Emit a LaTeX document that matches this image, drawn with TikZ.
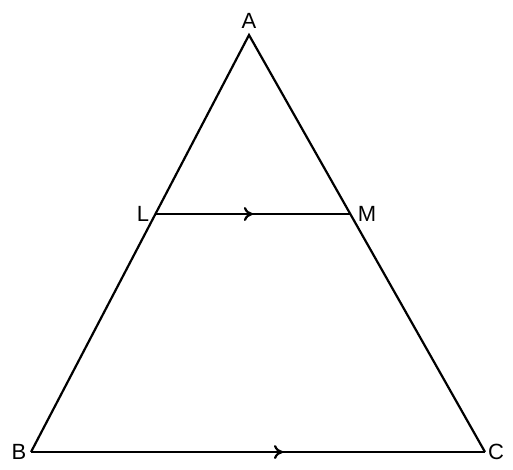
\documentclass[tikz,border=0pt]{standalone}
\usepackage{fontspec}
\setmainfont{Liberation Sans}
\usetikzlibrary{arrows.meta,decorations.markings}

\tikzset{
    side/.style={line width=2.2pt},
    vlabel/.style={inner sep=0pt, font=\fontsize{22}{26}\selectfont},
    midarrow/.style={postaction={decorate, decoration={markings,
        mark=at position #1 with {\draw[line width=2.8pt] (-26pt,0) -- (-3pt,0);
            \arrow{To[length=9pt,width=14pt,line width=2.2pt]}}}}}
}

\begin{document}
\begin{tikzpicture}[x=1pt, y=-1pt]
    \useasboundingbox (0,0) rectangle (513,469);

    % Define coordinates for the triangle
    \coordinate (A) at (249, 35);  \node[vlabel] (lA) at (249, 21) {A};
    \coordinate (B) at (31, 452);  \node[vlabel] (lB) at (19, 452) {B};
    \coordinate (C) at (485, 452); \node[vlabel] (lC) at (496, 452) {C};
    \coordinate (L) at (155.4, 214); \node[vlabel] (lL) at (143, 214) {L};
    \coordinate (M) at (350.3, 214); \node[vlabel] (lM) at (367, 214) {M};

    % Draw the sides
    \draw[side, line join=miter] (B) -- (A) -- (C);
    \draw[side, midarrow=0.555] (B) -- (C);

    % Draw the parallel segment
    \draw[side, midarrow=0.50] (L) -- (M);
\end{tikzpicture}
\end{document}
